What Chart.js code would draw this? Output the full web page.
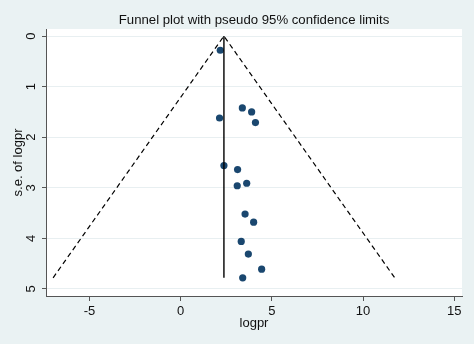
<!DOCTYPE html>
<html>
<head>
<meta charset="utf-8">
<script src="https://cdn.jsdelivr.net/npm/chart.js@4"></script>
<style>
  html, body { margin: 0; padding: 0; background: rgb(234, 242, 243); }
  #wrap { width: 474px; height: 344px; }
</style>
</head>
<body>
<div id="wrap"><canvas id="funnel"></canvas></div>
<script>
// study estimates
const logpr = [2.17, 3.38, 3.89, 2.13, 4.10, 2.37, 3.12, 3.10, 3.62, 3.53, 4.00, 3.32, 3.71, 4.44, 3.40];
const seLogpr = [0.28, 1.42, 1.50, 1.62, 1.71, 2.56, 2.64, 2.96, 2.91, 3.52, 3.68, 4.06, 4.31, 4.61, 4.78];

// pooled estimate and pseudo 95% limits (end points)
const pooledX = [2.37, 2.37];
const pooledY = [0, 4.78];
const funnelX = [-7.0, 2.37, 11.74];
const funnelY = [4.78, 0, 4.78];

const xTicks = [-5, 0, 5, 10, 15];
const yTicks = [0, 1, 2, 3, 4, 5];

const titleText = 'Funnel plot with pseudo 95% confidence limits';
const fontFamily = '"Liberation Sans", Arial, sans-serif';

Chart.defaults.font.family = fontFamily;
Chart.defaults.color = '#111';

const toPoints = (xs, ys) => xs.map((x, i) => ({ x: x, y: ys[i] }));

// draws the chart title and the rotated y tick labels
const stataBits = {
  id: 'stataBits',
  afterDraw(chart) {
    const c = chart.ctx;
    const area = chart.chartArea;
    const yScale = chart.scales.y;
    c.save();
    c.fillStyle = '#111';
    c.font = '13.2px ' + fontFamily;
    c.textAlign = 'center';
    c.textBaseline = 'middle';
    c.fillText(titleText, (area.left + area.right) / 2, 20);

    c.font = '13px ' + fontFamily;
    yTicks.forEach(v => {
      const py = yScale.getPixelForValue(v);
      c.save();
      c.translate(31, py);
      c.rotate(-Math.PI / 2);
      c.fillText(String(v), 0, 0);
      c.restore();
    });
    c.restore();
  },
};

const ctx = document.getElementById('funnel');

const funnelChart = new Chart(ctx, {
  type: 'scatter',
  data: {
    datasets: [
      {
        label: 'limits',
        type: 'line',
        data: toPoints(funnelX, funnelY),
        borderColor: '#000',
        borderWidth: 1.2,
        borderDash: [5, 3.5],
        pointRadius: 0,
        fill: false,
        tension: 0,
      },
      {
        label: 'pooled',
        type: 'line',
        data: toPoints(pooledX, pooledY),
        borderColor: '#000',
        borderWidth: 1.4,
        pointRadius: 0,
        fill: false,
      },
      {
        label: 'studies',
        data: toPoints(logpr, seLogpr),
        backgroundColor: '#1a476f',
        borderColor: '#1a476f',
        pointRadius: 3.6,
        pointBorderWidth: 0,
      },
    ],
  },
  options: {
    responsive: true,
    maintainAspectRatio: false,
    animation: false,
    layout: { padding: { top: 29, right: 12, left: 0, bottom: 0 } },
    plugins: {
      legend: { display: false },
      tooltip: { enabled: false },
      title: { display: false },
    },
    scales: {
      x: {
        type: 'linear',
        min: -7.39,
        max: 15.43,
        afterBuildTicks: s => { s.ticks = xTicks.map(v => ({ value: v })); },
        afterFit: s => { s.height = 48; },
        grid: { color: 'transparent', tickColor: '#555', tickLength: 5 },
        border: { display: true, color: '#555', width: 1 },
        ticks: { font: { size: 13 }, padding: 3, maxRotation: 0, color: '#111' },
        title: { display: true, text: 'logpr', font: { size: 13 }, padding: { bottom: 13 }, color: '#111' },
      },
      y: {
        type: 'linear',
        reverse: true,
        min: -0.14,
        max: 5.14,
        afterBuildTicks: s => { s.ticks = yTicks.map(v => ({ value: v })); },
        afterFit: s => { s.width = 46; },
        grid: { color: 'rgb(232, 239, 241)', tickColor: '#555', tickLength: 4, lineWidth: 1 },
        border: { display: true, color: '#555', width: 1 },
        ticks: { color: 'transparent', font: { size: 13 } },
        title: { display: true, text: 's.e. of logpr', font: { size: 13 }, padding: { top: 11 }, color: '#111' },
      },
    },
  },
  plugins: [
    {
      id: 'plotBg',
      beforeDraw(chart) {
        const a = chart.chartArea;
        chart.ctx.save();
        chart.ctx.fillStyle = '#fff';
        chart.ctx.fillRect(a.left, a.top, a.right - a.left, a.bottom - a.top);
        chart.ctx.restore();
      },
    },
    stataBits,
  ],
});
</script>
</body>
</html>
